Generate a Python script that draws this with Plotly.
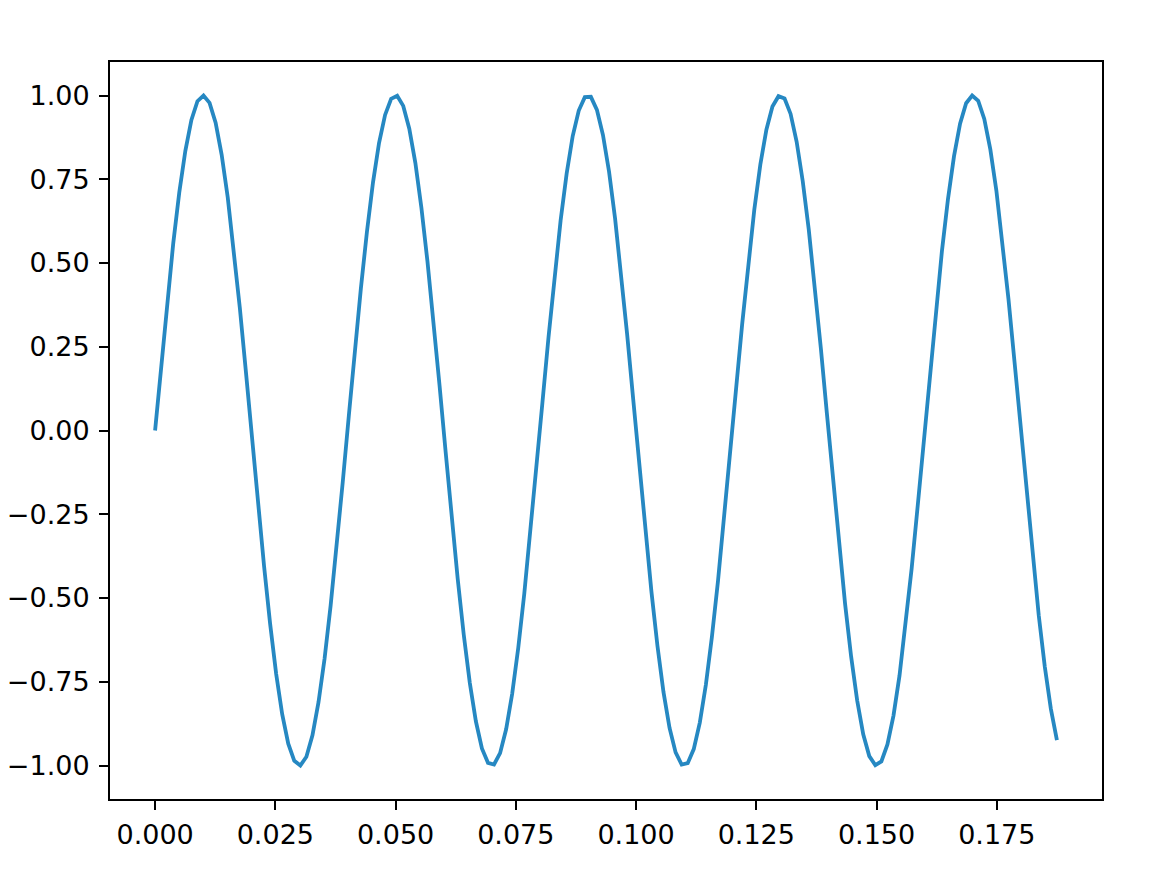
import plotly.graph_objects as go

# Senyal mostrejat: 150 mostres entre 0 i 0.1875 s
t_inici = 0.0
t_final = 0.1875
n_mostres = 150

senyal = [
    0.000, 0.196, 0.385, 0.559, 0.711, 0.835, 0.927, 0.983, 1.000, 0.978,
    0.919, 0.823, 0.696, 0.541, 0.366, 0.176, -0.021, -0.217, -0.404, -0.576,
    -0.726, -0.847, -0.935, -0.986, -1.000, -0.974, -0.910, -0.811, -0.681, -0.523,
    -0.346, -0.155, 0.042, 0.238, 0.424, 0.593, 0.740, 0.858, 0.942, 0.990,
    0.999, 0.969, 0.901, 0.799, 0.665, 0.505, 0.326, 0.134, -0.063, -0.258,
    -0.443, -0.610, -0.754, -0.868, -0.949, -0.992, -0.997, -0.963, -0.892, -0.786,
    -0.649, -0.487, -0.306, -0.113, 0.084, 0.278, 0.461, 0.627, 0.767, 0.879,
    0.955, 0.995, 0.996, 0.957, 0.882, 0.773, 0.633, 0.468, 0.286, 0.092,
    -0.105, -0.298, -0.480, -0.643, -0.781, -0.888, -0.961, -0.997, -0.993, -0.951,
    -0.872, -0.759, -0.616, -0.450, -0.266, -0.071, 0.126, 0.318, 0.498, 0.659,
    0.794, 0.898, 0.967, 0.998, 0.991, 0.945, 0.862, 0.745, 0.600, 0.431,
    0.245, 0.050, -0.147, -0.338, -0.517, -0.675, -0.806, -0.907, -0.972, -0.999,
    -0.988, -0.937, -0.851, -0.731, -0.583, -0.412, -0.225, -0.029, 0.168, 0.358,
    0.535, 0.690, 0.819, 0.916, 0.977, 1.000, 0.984, 0.930, 0.839, 0.716,
    0.565, 0.392, 0.204, 0.008, -0.189, -0.378, -0.552, -0.705, -0.831, -0.924,
]

x_ticks = [0.000, 0.025, 0.050, 0.075, 0.100, 0.125, 0.150, 0.175]
y_ticks = [-1.00, -0.75, -0.50, -0.25, 0.00, 0.25, 0.50, 0.75, 1.00]


def main():
    pas = (t_final - t_inici) / (n_mostres - 1)

    fig = go.Figure()
    fig.add_trace(go.Scatter(
        x0=t_inici,
        dx=pas,
        y=senyal,
        mode="lines",
        line=dict(color="#2688c2", width=3.8),
        showlegend=False,
    ))

    # marges de 5% com matplotlib
    marge_x = (t_final - t_inici) * 0.05
    eixos = dict(
        showline=True,
        linecolor="black",
        linewidth=2,
        mirror=True,
        ticks="outside",
        ticklen=9,
        tickwidth=2,
        tickcolor="black",
        showgrid=False,
        zeroline=False,
        automargin=False,
        tickfont=dict(family="DejaVu Sans", size=27, color="black"),
    )
    fig.update_xaxes(
        range=[t_inici - marge_x, t_final + marge_x],
        tickvals=x_ticks,
        ticktext=[f"{v:.3f}" for v in x_ticks],
        ticklabelstandoff=2,
        **eixos,
    )
    fig.update_yaxes(
        range=[-1.1, 1.1],
        tickvals=y_ticks,
        ticktext=[f"{v:.2f}".replace("-", "\u2212") for v in y_ticks],
        ticklabelstandoff=4,
        **eixos,
    )

    # el body de la pàgina afegeix ~8 px de marge
    fig.update_layout(
        width=1156,
        height=886,
        margin=dict(l=102, r=62, t=54, b=95),
        plot_bgcolor="white",
        paper_bgcolor="white",
    )

    fig.write_html("out.html")


if __name__ == "__main__":
    main()
